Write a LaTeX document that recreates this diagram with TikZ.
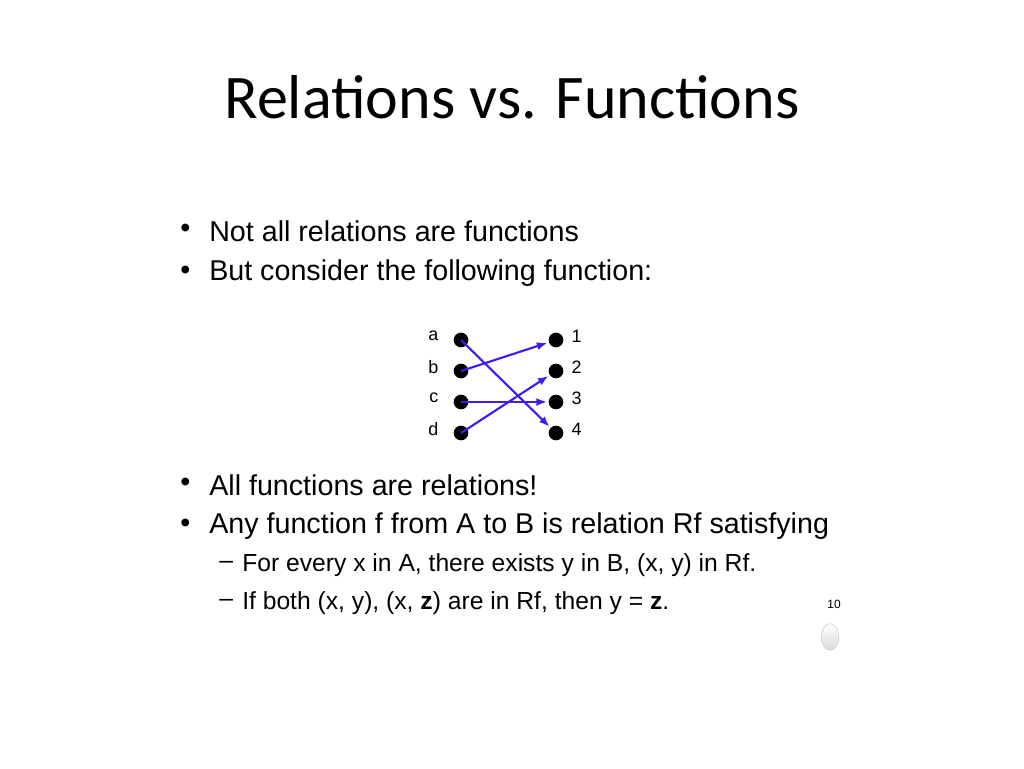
\documentclass[tikz,border=0pt]{standalone}
\usepackage{fontspec}
\usetikzlibrary{shapes.geometric,arrows.meta}
\setmainfont{Liberation Sans}
\newfontfamily\titlefont{Carlito}
\begin{document}
\begin{tikzpicture}[x=0.75pt,y=-0.75pt,
  dot/.style={circle,fill=black,inner sep=0pt,minimum size=11pt},
  lbl/.style={font=\fontsize{13.5}{16}\selectfont},
  arr/.style={-{Latex[length=8pt,width=6pt]},draw={rgb,255:red,60;green,30;blue,240},line width=1.6pt,shorten >=1pt},
  bul/.style={anchor=west,font=\fontsize{21.5}{26}\selectfont,inner sep=0pt},
  sub/.style={anchor=west,font=\fontsize{18.5}{22}\selectfont,inner sep=0pt}]
\useasboundingbox (0,0) rectangle (1024,768);
\fill[white] (0,0) rectangle (1024,768);
\node[font=\titlefont\fontsize{46.5}{54}\selectfont] (title) at (512,97) {Relations vs. Functions};
\node[bul] (d1) at (180,231) {•};
\node[bul] (b1) at (209,231) {Not all relations are functions};
\node[bul] (d2) at (180,273) {•};
\node[bul] (b2) at (209,273) {But consider the following function:};
\foreach \n/\y in {a/340,b/371,c/402,d/433}{
  \node[dot] (\n) at (461,\y) {};
  \node[lbl,anchor=east] (l\n) at (443,\y-4) {\n};}
\foreach \n/\y in {1/340,2/371,3/402,4/433}{
  \node[dot] (n\n) at (556,\y) {};
  \node[lbl,anchor=west] (l\n) at (567,\y-4) {\n};}
\draw[arr] (a.center) -- (n4);
\draw[arr] (b.center) -- (n1);
\draw[arr] (c.center) -- (n3);
\draw[arr] (d.center) -- (n2);
\node[bul] (d3) at (180,485) {•};
\node[bul] (b3) at (209,485) {All functions are relations!};
\node[bul] (d4) at (180,526) {•};
\node[bul] (b4) at (209,526) {Any function f from A to B is relation Rf satisfying};
\node[sub] (e1) at (219,565) {–};
\node[sub] (s1) at (242,565) {For every x in A, there exists y in B, (x, y) in Rf.};
\node[sub] (e2) at (219,603) {–};
\node[sub] (s2) at (242,603) {If both (x, y), (x, \textbf{z}) are in Rf, then y = \textbf{z}.};
\node[font=\fontsize{9}{11}\selectfont] (pg) at (834,604) {10};
\node[ellipse,draw=gray!40,top color=white,bottom color=gray!30,minimum width=13pt,minimum height=20pt,inner sep=0pt] (btn) at (830,637) {};
\end{tikzpicture}
\end{document}
